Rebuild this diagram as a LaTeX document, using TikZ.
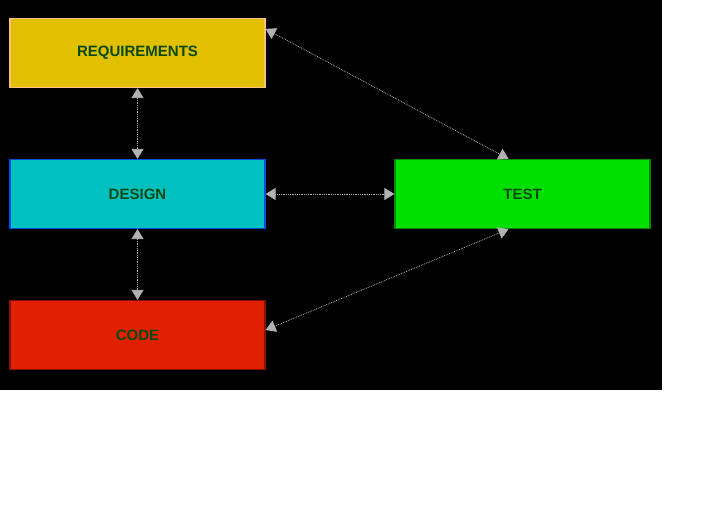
\documentclass[tikz,border=0pt]{standalone}
\usepackage{fontspec}
\setmainfont{Liberation Sans}
\usetikzlibrary{arrows.meta}
\definecolor{txt}{HTML}{0A4A10}
\tikzset{
 box/.style={draw=#1!60!black, line width=1.2pt, minimum width=255pt, minimum height=69pt, inner sep=0pt, font=\bfseries\fontsize{15}{15}\selectfont, text=txt},
 link/.style={draw=gray!60, line width=0.8pt, {Triangle[length=10pt,width=12pt]}-{Triangle[length=10pt,width=12pt]}, densely dotted}
}
\begin{document}
\begin{tikzpicture}[x=1pt,y=-1pt]
\fill[white] (0,0) rectangle (706,525);
\fill[black] (0,0) rectangle (662,390);
\definecolor{cy}{HTML}{00C0C0}\definecolor{go}{HTML}{E0C000}
\definecolor{rd}{HTML}{E02000}\definecolor{gr}{HTML}{00E000}
\node[box=go, fill=go, draw=orange!50] (req) at (137.5,53) {REQUIREMENTS};
\node[box=cy, fill=cy, draw=blue!60!cy] (des) at (137.5,194) {DESIGN};
\node[box=rd, fill=rd] (code) at (137.5,335) {CODE};
\node[box=gr, fill=gr] (test) at (522.5,194) {TEST};
\draw[link] (req.south) -- (des.north);
\draw[link] (des.south) -- (code.north);
\draw[link] (des.east) -- (test.west);
\draw[link] ([yshift=-11pt]req.north east) -- ([xshift=-14pt]test.north);
\draw[link] ([yshift=5pt]code.east) -- ([xshift=-14pt]test.south);
\end{tikzpicture}
\end{document}
